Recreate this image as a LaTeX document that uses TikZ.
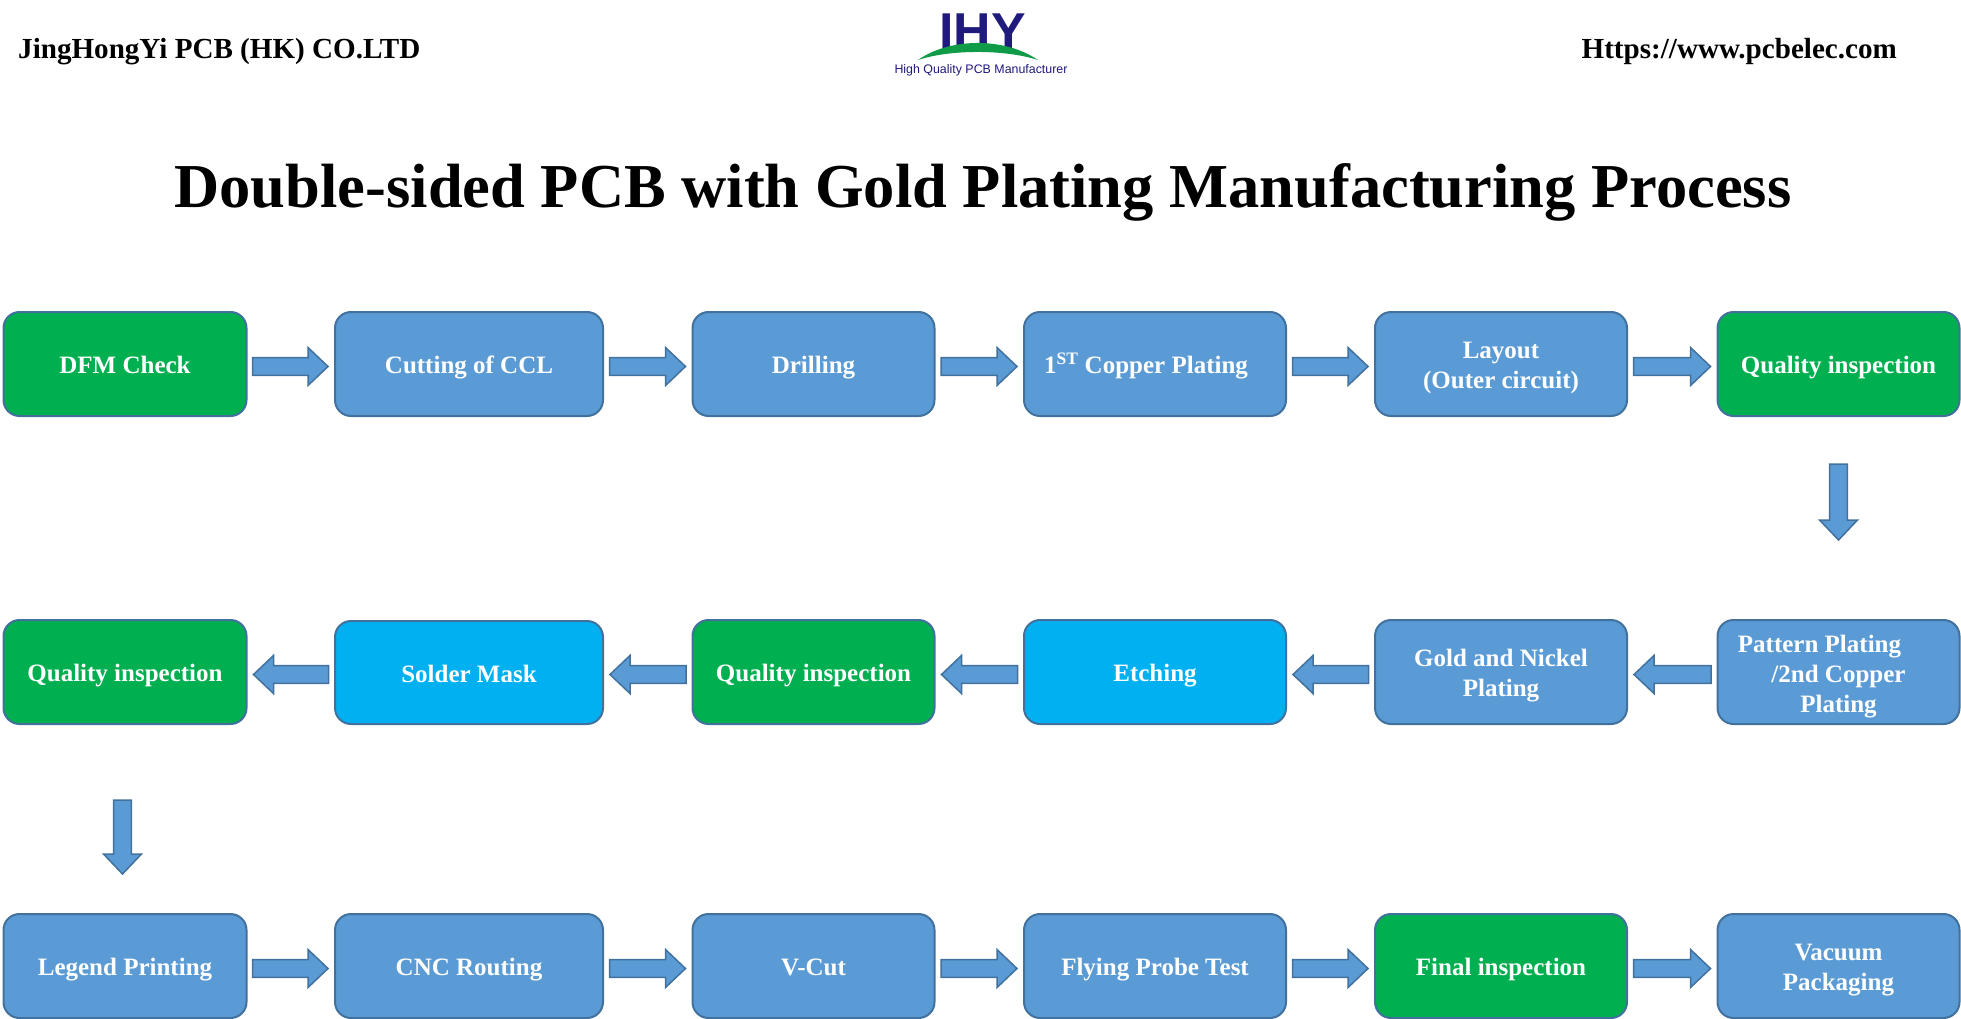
\documentclass[tikz,border=0pt]{standalone}
\usepackage{fontspec}
\setmainfont{Liberation Serif}
\newfontfamily\logofont{Liberation Sans}
\usetikzlibrary{calc}
\definecolor{boxblue}{HTML}{5B9BD5}
\definecolor{boxgreen}{HTML}{00B050}
\definecolor{boxcyan}{HTML}{00B0F0}
\definecolor{boxline}{HTML}{41719C}
\definecolor{logonavy}{HTML}{1F1A7C}
\definecolor{logogreen}{HTML}{0F9B48}
\newcommand{\boxstrut}[1]{\rule[-5pt]{0pt}{#1pt}}
\tikzset{
  flowbox/.style={draw=boxline,line width=2pt,rounded corners=16pt,inner sep=0pt,
    minimum height=104pt,text=white,align=center,
    font=\bfseries\fontsize{25}{30}\selectfont,
    execute at begin node=\boxstrut{29.5},execute at end node=\boxstrut{27}},
  twolines/.style={execute at begin node=\boxstrut{59}},
  threelines/.style={execute at begin node=\boxstrut{91}},
  bluebox/.style={flowbox,fill=boxblue},
  greenbox/.style={flowbox,fill=boxgreen},
  cyanbox/.style={flowbox,fill=boxcyan},
  cola/.style={minimum width=243pt},
  colb/.style={minimum width=268pt},
  colc/.style={minimum width=242pt},
  cold/.style={minimum width=262pt},
  cole/.style={minimum width=252pt},
  colf/.style={minimum width=242pt},
  blockarrow/.style={draw=boxline,line width=1.5pt,fill=boxblue,line join=miter},
  headtext/.style={inner sep=0pt,font=\bfseries\fontsize{29.1}{34}\selectfont},
  titletext/.style={inner sep=0pt,font=\bfseries\fontsize{62.5}{70}\selectfont},
}
% block arrow between two named anchors: from, to, gap at start, gap at end
\newcommand{\blockarrow}[4]{%
  \coordinate (bS) at ($(#1)!#3pt!(#2)$);
  \coordinate (bE) at ($(#2)!#4pt!(#1)$);
  \coordinate (bH) at ($(bE)!20pt!(bS)$);
  \draw[blockarrow] ($(bS)!8.8pt!90:(bE)$) -- ($(bH)!8.8pt!-90:(bS)$) -- ($(bH)!19pt!-90:(bS)$)
    -- (bE) -- ($(bH)!19pt!90:(bS)$) -- ($(bH)!8.8pt!90:(bS)$) -- ($(bS)!8.8pt!-90:(bE)$) -- cycle;
}
\begin{document}
\begin{tikzpicture}[x=1pt,y=-1pt]
\useasboundingbox (0,0) rectangle (1961,1019);
% header
\node[headtext,anchor=west] (company) at (18,52) {JingHongYi PCB (HK) CO.LTD};
\node[headtext,anchor=east] (site) at (1897,52) {Https://www.pcbelec.com};
\node[titletext] (title) at (983,192) {Double-sided PCB with Gold Plating Manufacturing Process};
% logo
\node[inner sep=0pt,text=logonavy,xscale=1.08,yscale=1.05,font=\logofont\bfseries\fontsize{48}{48}\selectfont] (logoname) at (982.5,31) {IHY};
\fill[logogreen] (918,60) .. controls (950,37.3) and (1005,37.3) .. (1038,60) .. controls (1005,49.3) and (950,49.3) .. cycle;
\node[inner sep=0pt,text=logonavy,font=\logofont\fontsize{12.4}{14}\selectfont] (logotag) at (981,70) {High Quality PCB Manufacturer};
% row 1
\node[greenbox,cola] (a1) at (125,364) {DFM Check};
\node[bluebox,colb] (b1) at (469,364) {Cutting of CCL};
\node[bluebox,colc] (c1) at (813.5,364) {Drilling};
\node[bluebox,cold] (d1) at (1155,364) {1\textsuperscript{ST} Copper Plating\hspace*{18pt}};
\node[bluebox,cole,twolines] (e1) at (1501,364) {Layout\\(Outer circuit)};
\node[greenbox,colf] (f1) at (1838.5,364) {Quality inspection};
% row 2
\node[greenbox,cola] (a2) at (125,672) {Quality inspection};
\node[cyanbox,colb,minimum height=103pt] (b2) at (469,672.5) {Solder Mask};
\node[greenbox,colc] (c2) at (813.5,672) {Quality inspection};
\node[cyanbox,cold] (d2) at (1155,672) {Etching};
\node[bluebox,cole,twolines] (e2) at (1501,672) {Gold and Nickel\\Plating};
\node[bluebox,colf,threelines] (f2) at (1838.5,672) {Pattern Plating\hspace*{38pt}\\/2nd Copper\\Plating};
% row 3
\node[bluebox,cola] (a3) at (125,966) {Legend Printing};
\node[bluebox,colb] (b3) at (469,966) {CNC Routing};
\node[bluebox,colc] (c3) at (813.5,966) {V-Cut};
\node[bluebox,cold] (d3) at (1155,966) {Flying Probe Test};
\node[greenbox,cole] (e3) at (1501,966) {Final inspection};
\node[bluebox,colf,twolines] (f3) at (1838.5,966) {Vacuum\\Packaging};
% anchors of the arrows sit slightly below the box centres
\foreach \r in {1,2,3}{
  \foreach \n in {a,b,c,d,e,f}{
    \coordinate (\n\r E) at ($(\n\r.east)+(0,2.5)$);
    \coordinate (\n\r W) at ($(\n\r.west)+(0,2.5)$);
  }
}
\coordinate (b2E) at ($(b2.east)+(0,2)$);
\coordinate (b2W) at ($(b2.west)+(0,2)$);
\coordinate (a2D) at ($(a2.south)+(-2.5,0)$);
\coordinate (a3U) at ($(a3.north)+(-2.5,0)$);
% row 1 arrows
\blockarrow{a1E}{b1W}{5}{6}
\blockarrow{b1E}{c1W}{5.5}{6}
\blockarrow{c1E}{d1W}{5.5}{6}
\blockarrow{d1E}{e1W}{5.5}{6}
\blockarrow{e1E}{f1W}{5.5}{6}
\blockarrow{f1.south}{f2.north}{47}{79}
% row 2 arrows
\blockarrow{f2W}{e2E}{5.5}{6}
\blockarrow{e2W}{d2E}{5.5}{6}
\blockarrow{d2W}{c2E}{5.5}{6}
\blockarrow{c2W}{b2E}{5.5}{6}
\blockarrow{b2W}{a2E}{5.5}{6}
\blockarrow{a2D}{a3U}{75}{39}
% row 3 arrows
\blockarrow{a3E}{b3W}{5}{6}
\blockarrow{b3E}{c3W}{5.5}{6}
\blockarrow{c3E}{d3W}{5.5}{6}
\blockarrow{d3E}{e3W}{5.5}{6}
\blockarrow{e3E}{f3W}{5.5}{6}
\end{tikzpicture}
\end{document}
